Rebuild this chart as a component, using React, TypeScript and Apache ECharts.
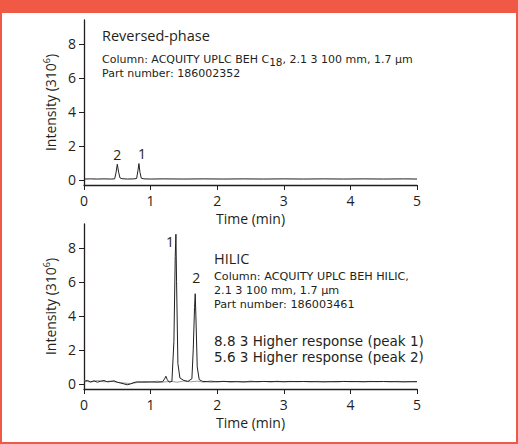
import React, { useEffect, useRef } from "react";
import * as echarts from "echarts";

const FONT = "Open Sans";
const NOTE_FONT = "DejaVu Sans";
const INK = "#231f20";
const ORANGE = "#f05a45";

const xTicks = [0, 1, 2, 3, 4, 5];
const yTickValues = [0, 2, 4, 6, 8];

// Reversed-phase trace
const rpTime = [0, 0.1, 0.2, 0.3, 0.4, 0.46, 0.48, 0.5, 0.52, 0.54, 0.57, 0.65, 0.75, 0.79, 0.81, 0.825, 0.84, 0.86, 0.9, 1.0, 1.2, 1.5, 1.8, 2.1, 2.4, 2.7, 3.0, 3.3, 3.6, 3.9, 4.2, 4.5, 4.8, 5.0];
const rpIntensity = [0.05, 0.06, 0.05, 0.06, 0.05, 0.06, 0.4, 0.92, 0.45, 0.12, 0.07, 0.05, 0.06, 0.08, 0.55, 0.96, 0.45, 0.1, 0.06, 0.05, 0.06, 0.05, 0.06, 0.05, 0.06, 0.05, 0.06, 0.05, 0.06, 0.05, 0.06, 0.05, 0.06, 0.05];

// HILIC trace
const hilicTime = [0, 0.05, 0.1, 0.15, 0.2, 0.25, 0.3, 0.35, 0.4, 0.45, 0.5, 0.55, 0.6, 0.65, 0.7, 0.75, 0.8, 0.9, 1.0, 1.1, 1.18, 1.21, 1.23, 1.25, 1.28, 1.32, 1.35, 1.37, 1.38, 1.39, 1.41, 1.44, 1.5, 1.56, 1.62, 1.64, 1.66, 1.67, 1.68, 1.7, 1.73, 1.78, 1.9, 2.1, 2.4, 2.7, 3.0, 3.3, 3.6, 3.9, 4.2, 4.5, 4.8, 5.0];
const hilicIntensity = [0.15, 0.2, 0.12, 0.18, 0.1, 0.16, 0.2, 0.12, 0.14, 0.18, 0.1, 0.05, 0.0, -0.05, 0.0, 0.08, 0.12, 0.1, 0.12, 0.1, 0.12, 0.3, 0.45, 0.25, 0.1, 0.15, 2.5, 7.5, 8.8, 6.0, 1.2, 0.35, 0.2, 0.15, 0.3, 2.0, 4.5, 5.3, 4.0, 1.0, 0.25, 0.15, 0.12, 0.14, 0.12, 0.14, 0.13, 0.14, 0.12, 0.14, 0.13, 0.14, 0.12, 0.13];

// HILIC noisy overlay (gray)
const hilicNoise: [number, number][] = [
  [0, 0.18], [0.1, 0.1], [0.2, 0.2], [0.3, 0.12], [0.4, 0.17], [0.5, 0.09], [0.6, 0.05], [0.7, 0.02], [0.8, 0.08],
  [0.9, 0.14], [1.0, 0.1], [1.1, 0.16], [1.2, 0.11], [1.3, 0.15], [1.4, 0.1], [1.5, 0.17], [1.6, 0.12], [1.7, 0.16],
  [1.8, 0.1], [1.9, 0.18], [2.0, 0.12], [2.1, 0.16], [2.2, 0.1], [2.3, 0.15], [2.4, 0.11], [2.5, 0.17], [2.6, 0.12],
  [2.7, 0.15], [2.8, 0.11], [2.9, 0.16], [3.0, 0.12], [3.1, 0.15], [3.2, 0.13], [3.3, 0.14], [3.4, 0.12], [3.5, 0.15],
  [3.6, 0.13], [3.7, 0.14], [3.8, 0.12], [3.9, 0.15], [4.0, 0.13], [4.1, 0.14], [4.2, 0.12], [4.3, 0.15], [4.4, 0.13],
  [4.5, 0.14], [4.6, 0.12], [4.7, 0.15], [4.8, 0.13], [4.9, 0.14], [5.0, 0.13],
];

const rpPeaks = [
  { label: "2", time: 0.5, value: 0.92, offset: [0, -10] },
  { label: "1", time: 0.825, value: 0.96, offset: [3, -10] },
];
const hilicPeaks = [
  { label: "1", time: 1.38, value: 8.8, offset: [-6, 7] },
  { label: "2", time: 1.67, value: 5.3, offset: [1, -16] },
];

const zip = (t: number[], v: number[]) => t.map((x, i) => [x, v[i]]);

function xAxis(gridIndex: number) {
  return {
    gridIndex,
    type: "value",
    min: 0,
    max: 5,
    interval: 1,
    axisLine: { onZero: false, lineStyle: { color: INK, width: 1.3 } },
    axisTick: { show: true, length: 5, lineStyle: { color: INK } },
    splitLine: { show: false },
    axisLabel: { fontSize: 14, color: INK, fontFamily: FONT, margin: 8, customValues: xTicks },
    name: "Time (min)",
    nameLocation: "middle",
    nameGap: 26,
    nameTextStyle: { fontSize: 14, color: INK, fontFamily: FONT },
  };
}

function yAxis(gridIndex: number) {
  return {
    gridIndex,
    type: "value",
    min: -0.3,
    max: 9.4,
    axisLine: { show: true, onZero: false, lineStyle: { color: INK, width: 1.3 } },
    axisTick: { show: true, length: 5, lineStyle: { color: INK }, customValues: yTickValues },
    splitLine: { show: false },
    axisLabel: { fontSize: 14, color: INK, fontFamily: FONT, margin: 8, customValues: yTickValues },
    name: "{a|Intensity (310}{s|6}{a|)}",
    nameLocation: "middle",
    nameGap: 17,
    nameRotate: 90,
    nameTextStyle: {
      color: INK,
      fontFamily: FONT,
      rich: {
        a: { fontSize: 14, color: INK, fontFamily: FONT },
        s: { fontSize: 9, color: INK, fontFamily: FONT, padding: [0, 0, 7, 0] },
      },
    },
  };
}

function peakMarks(peaks: typeof rpPeaks) {
  return {
    symbol: "circle",
    symbolSize: 0,
    silent: true,
    label: { show: true, fontSize: 14, color: INK, fontFamily: FONT },
    data: peaks.map((p) => ({
      coord: [p.time, p.value],
      value: p.label,
      label: { formatter: p.label, offset: p.offset },
    })),
  };
}

function txt(x: number, y: number, text: string, size: number, font: string, extra?: any) {
  return {
    type: "text",
    x,
    y,
    style: {
      text,
      fontSize: size,
      fontFamily: font,
      fill: INK,
      verticalAlign: "middle",
      ...(extra || {}),
    },
  };
}

const subRich = {
  a: { fontSize: 11, fontFamily: NOTE_FONT, color: INK },
  b: { fontSize: 10.5, fontFamily: NOTE_FONT, color: INK, padding: [5, 0, 0, 0] },
};

export default function App() {
  const ref = useRef<HTMLDivElement>(null);
  useEffect(() => {
    if (!ref.current) return;
    const chart = echarts.init(ref.current, null, { renderer: "svg" });
    chart.setOption({
      animation: false,
      backgroundColor: "#ffffff",
      textStyle: { fontFamily: FONT, color: INK },
      grid: [
        { left: 84, top: 20, width: 333, height: 165 },
        { left: 84, top: 224, width: 333, height: 165 },
      ],
      xAxis: [xAxis(0), xAxis(1)],
      yAxis: [yAxis(0), yAxis(1)],
      series: [
        {
          type: "line",
          xAxisIndex: 0,
          yAxisIndex: 0,
          showSymbol: false,
          lineStyle: { color: INK, width: 1 },
          data: zip(rpTime, rpIntensity),
          markPoint: peakMarks(rpPeaks),
        },
        {
          type: "line",
          xAxisIndex: 1,
          yAxisIndex: 1,
          showSymbol: false,
          lineStyle: { color: "#9a9a9a", width: 1 },
          data: hilicNoise,
        },
        {
          type: "line",
          xAxisIndex: 1,
          yAxisIndex: 1,
          showSymbol: false,
          lineStyle: { color: INK, width: 1 },
          data: zip(hilicTime, hilicIntensity),
          markPoint: peakMarks(hilicPeaks),
        },
      ],
      graphic: [
        { type: "rect", shape: { x: 0, y: 0, width: 518, height: 13 }, style: { fill: ORANGE } },
        { type: "rect", shape: { x: 0, y: 0, width: 2, height: 444 }, style: { fill: ORANGE } },
        { type: "rect", shape: { x: 516, y: 0, width: 2, height: 444 }, style: { fill: ORANGE } },
        { type: "rect", shape: { x: 0, y: 442, width: 518, height: 2 }, style: { fill: ORANGE } },
        txt(102, 35, "Reversed-phase", 14.5, FONT),
        txt(102, 59, "{a|Column: ACQUITY UPLC BEH C}{b|18}{a|, 2.1 3 100 mm, 1.7 μm}", 11, NOTE_FONT, { rich: subRich }),
        txt(102, 73, "Part number: 186002352", 11, NOTE_FONT),
        txt(214, 258, "HILIC", 14.5, FONT),
        txt(214, 276, "Column: ACQUITY UPLC BEH HILIC,", 11.2, NOTE_FONT),
        txt(214, 290, "2.1 3 100 mm, 1.7 μm", 11.2, NOTE_FONT),
        txt(214, 304, "Part number: 186003461", 11.2, NOTE_FONT),
        txt(214, 341, "8.8 3 Higher response (peak 1)", 13.5, NOTE_FONT),
        txt(214, 357, "5.6 3 Higher response (peak 2)", 13.5, NOTE_FONT),
      ],
    });
    return () => chart.dispose();
  }, []);
  return (
    <div
      ref={ref}
      style={{ position: "fixed", left: 0, top: 0, width: 518, height: 444, background: "#fff" }}
    />
  );
}
